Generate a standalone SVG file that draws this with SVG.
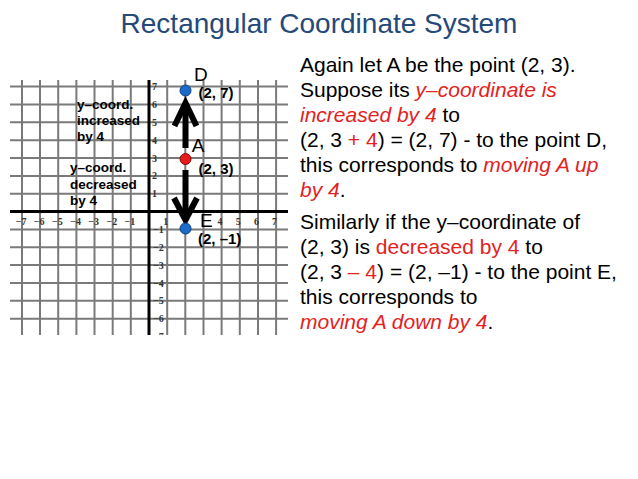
<svg xmlns="http://www.w3.org/2000/svg" width="638" height="479" viewBox="0 0 638 479">
<style>
.grid line{stroke:#7a7a7a;stroke-width:2}
.axis{stroke:#000;stroke-width:3}
.tk{font-family:"Liberation Serif",serif;font-weight:bold;font-size:10px;fill:#333}
.lbl{font-family:"Liberation Sans",Arial,sans-serif;font-weight:bold;font-size:13.5px;fill:#000}
.coord{font-family:"Liberation Sans",Arial,sans-serif;font-weight:bold;font-size:15px;fill:#000}
.pt{font-family:"Liberation Sans",Arial,sans-serif;font-size:19px;fill:#000}
.body{font-family:"Liberation Sans",Arial,sans-serif;font-size:21px;fill:#000}
.r{fill:#e3221e}
.ri{fill:#e3221e;font-style:italic}
.arr{stroke:#000;stroke-width:6;fill:none;stroke-linejoin:miter;stroke-linecap:butt}
.blue{fill:#1c6bc8;stroke:#0e3f80;stroke-width:1}
.red{fill:#e21b1b;stroke:#8a0d0d;stroke-width:1}
</style>
<defs>
<clipPath id="gclip"><rect x="0" y="78" width="292" height="257"/></clipPath>
</defs>
<rect width="638" height="479" fill="#fff"/>
<text id="title" x="319" y="33" text-anchor="middle" font-family="'Liberation Sans',Arial,sans-serif" font-size="28" fill="#24497a">Rectangular Coordinate System</text>
<g id="graph" clip-path="url(#gclip)">
<g class="grid">
<line x1="22" y1="80" x2="22" y2="336"/>
<line x1="40" y1="80" x2="40" y2="336"/>
<line x1="58.2" y1="80" x2="58.2" y2="336"/>
<line x1="76.4" y1="80" x2="76.4" y2="336"/>
<line x1="94.5" y1="80" x2="94.5" y2="336"/>
<line x1="112.7" y1="80" x2="112.7" y2="336"/>
<line x1="130.8" y1="80" x2="130.8" y2="336"/>
<line x1="167.2" y1="80" x2="167.2" y2="336"/>
<line x1="185.3" y1="80" x2="185.3" y2="336"/>
<line x1="203.5" y1="80" x2="203.5" y2="336"/>
<line x1="221.6" y1="80" x2="221.6" y2="336"/>
<line x1="239.8" y1="80" x2="239.8" y2="336"/>
<line x1="258" y1="80" x2="258" y2="336"/>
<line x1="276.1" y1="80" x2="276.1" y2="336"/>
<line x1="10" y1="86.6" x2="288" y2="86.6"/>
<line x1="10" y1="104.5" x2="288" y2="104.5"/>
<line x1="10" y1="122.3" x2="288" y2="122.3"/>
<line x1="10" y1="140.2" x2="288" y2="140.2"/>
<line x1="10" y1="158" x2="288" y2="158"/>
<line x1="10" y1="175.9" x2="288" y2="175.9"/>
<line x1="10" y1="193.7" x2="288" y2="193.7"/>
<line x1="10" y1="229.4" x2="288" y2="229.4"/>
<line x1="10" y1="247.3" x2="288" y2="247.3"/>
<line x1="10" y1="265.1" x2="288" y2="265.1"/>
<line x1="10" y1="283" x2="288" y2="283"/>
<line x1="10" y1="300.8" x2="288" y2="300.8"/>
<line x1="10" y1="318.7" x2="288" y2="318.7"/>
</g>
<line class="axis" x1="10" y1="211.6" x2="288" y2="211.6"/>
<line class="axis" x1="149" y1="80" x2="149" y2="336"/>
<g id="ticks">
<text class="tk" x="152" y="90">7</text>
<text class="tk" x="152" y="108">6</text>
<text class="tk" x="152" y="125.8">5</text>
<text class="tk" x="152" y="143.7">4</text>
<text class="tk" x="152" y="161.5">3</text>
<text class="tk" x="152" y="179.4">2</text>
<text class="tk" x="152" y="197.2">1</text>
<text class="tk" x="153" y="232.9">−1</text>
<text class="tk" x="153" y="250.8">−2</text>
<text class="tk" x="153" y="268.6">−3</text>
<text class="tk" x="153" y="286.5">−4</text>
<text class="tk" x="153" y="304.3">−5</text>
<text class="tk" x="153" y="322.2">−6</text>
<text class="tk" x="153" y="340">−7</text>
<g text-anchor="end">
<text class="tk" x="26.5" y="224.5">−7</text>
<text class="tk" x="44.5" y="224.5">−6</text>
<text class="tk" x="62.7" y="224.5">−5</text>
<text class="tk" x="80.9" y="224.5">−4</text>
<text class="tk" x="99" y="224.5">−3</text>
<text class="tk" x="117.2" y="224.5">−2</text>
<text class="tk" x="135.3" y="224.5">−1</text>
</g>
<g text-anchor="middle">
<text class="tk" x="165.7" y="224.5">1</text>
<text class="tk" x="220.1" y="224.5">4</text>
<text class="tk" x="238.3" y="224.5">5</text>
<text class="tk" x="256.5" y="224.5">6</text>
<text class="tk" x="274.6" y="224.5">7</text>
</g>
</g>
</g>
<g id="side-labels">
<text class="lbl" x="77" y="108.5">y–coord.</text>
<text class="lbl" x="77" y="124.5">increased</text>
<text class="lbl" x="77" y="140.5">by 4</text>
<text class="lbl" x="70" y="172">y–coord.</text>
<text class="lbl" x="70" y="188.5">decreased</text>
<text class="lbl" x="70" y="204.5">by 4</text>
</g>
<g id="connectors">
<line class="arr" x1="185.5" y1="148" x2="185.5" y2="104"/>
<polyline class="arr" points="174.5,126 185.5,103 196.5,126"/>
<line class="arr" x1="185.5" y1="170" x2="185.5" y2="218"/>
<polyline class="arr" points="174,198 185.5,220 197,198"/>
</g>
<g id="nodeD">
<circle class="blue" cx="185.5" cy="90.5" r="5.5"/>
<text class="pt" x="194" y="80.7">D</text>
<text class="coord" x="198.5" y="98">(2, 7)</text>
</g>
<g id="nodeA">
<circle class="red" cx="185.5" cy="159" r="5.5"/>
<text class="pt" x="191.7" y="151.5">A</text>
<text class="coord" x="198.5" y="173.5">(2, 3)</text>
</g>
<g id="nodeE">
<circle class="blue" cx="185.5" cy="228.5" r="5.5"/>
<text class="pt" x="200" y="226.7">E</text>
<text class="coord" x="198" y="243.5">(2, –1)</text>
</g>
<g id="explanation" class="body">
<text x="300" y="72">Again let A be the point (2, 3).</text>
<text x="300" y="97">Suppose its <tspan class="ri">y–coordinate is</tspan></text>
<text x="300" y="121.5"><tspan class="ri">increased by 4</tspan> to</text>
<text x="300" y="146.5">(2, 3 <tspan class="r">+ 4</tspan>) = (2, 7) - to the point D,</text>
<text x="300" y="171.5">this corresponds to <tspan class="ri">moving A up</tspan></text>
<text x="300" y="196.5"><tspan class="ri">by 4</tspan>.</text>
<text x="300" y="229">Similarly if the y–coordinate of</text>
<text x="300" y="254">(2, 3) is <tspan class="r">decreased by 4</tspan> to</text>
<text x="300" y="279">(2, 3 <tspan class="r">– 4</tspan>) = (2, –1) - to the point E,</text>
<text x="300" y="304">this corresponds to</text>
<text x="300" y="329"><tspan class="ri">moving A down by 4</tspan>.</text>
</g>
</svg>
